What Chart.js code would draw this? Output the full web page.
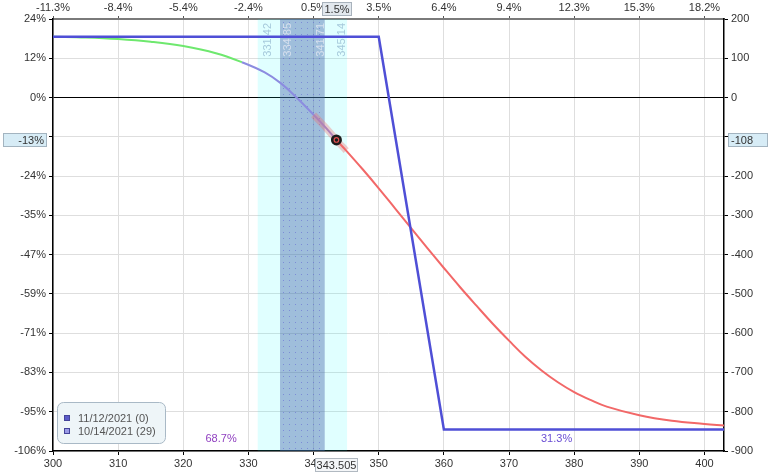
<!DOCTYPE html>
<html>
<head>
<meta charset="utf-8">
<script src="https://cdn.jsdelivr.net/npm/chart.js@4.4.1/dist/chart.umd.min.js"></script>
<style>
  html, body { margin: 0; padding: 0; background: #ffffff; }
</style>
</head>
<body>
<canvas id="riskChart" width="768" height="472"></canvas>
<script>
// dados do grafico
const xTicks = [300, 310, 320, 330, 340, 350, 360, 370, 380, 390, 400];
const topLabels = ['-11.3%', '-8.4%', '-5.4%', '-2.4%', '0.5%', '3.5%', '6.4%', '9.4%', '12.3%', '15.3%', '18.2%'];
const yTicks = [200, 100, 0, -100, -200, -300, -400, -500, -600, -700, -800, -900];
// o rotulo de -100 fica escondido atras da caixa do valor atual
const leftLabels = ['24%', '12%', '0%', '', '-24%', '-35%', '-47%', '-59%', '-71%', '-83%', '-95%', '-106%'];
const rightLabels = ['200', '100', '0', '', '-200', '-300', '-400', '-500', '-600', '-700', '-800', '-900'];

// linha de expiracao 11/12/2021
const expiryPrices = [300, 350, 360, 403];
const expiryPnl = [155, 155, -845, -845];

// linha T+0 10/14/2021
const todayPrices = [300, 305, 310, 315, 320, 325, 329, 332.5, 335, 337.5, 340, 342, 343.505, 345, 347.5, 350, 352.5, 355, 357.5, 360, 362.5, 365, 367.5, 370, 372.5, 375, 377.5, 380, 382.5, 385, 390, 395, 400, 403];
const todayPnl = [155, 153, 149, 142, 131, 113, 90, 64, 36, -2, -44, -79, -108, -135, -182, -231, -282, -333, -384, -434, -483, -530, -576, -619, -660, -695, -725, -750, -770, -787, -809, -823, -831, -835];

const bandOuter = [331.42, 345.14];
const bandInner = [334.85, 341.71];
const currentPrice = 343.505;
const currentPnl = -108;
const currentPct = '-13%';
const currentMove = '1.5%';
const probLabels = ['68.7%', '31.3%'];
const legendLabels = ['11/12/2021 (0)', '10/14/2021 (29)'];

const cores = {
    expiracao: '#4f4fd6',
    verde: '#6ee86e',
    azulClaro: '#8c8ce0',
    vermelho: '#f26868',
    grade: '#dedede',
    texto: '#333333'
};

const fonte = '11px "Liberation Sans", Arial, sans-serif';

function pts(xs, ys) {
    return xs.map((x, i) => ({ x: x, y: ys[i] }));
}

// faixas de desvio padrao
const bandsPlugin = {
    id: 'bands',
    beforeDatasetsDraw(chart) {
        const { ctx, chartArea: a, scales: { x } } = chart;
        ctx.save();
        const o0 = x.getPixelForValue(bandOuter[0]);
        const o1 = x.getPixelForValue(bandOuter[1]);
        ctx.fillStyle = 'rgba(0,255,255,0.12)';
        ctx.fillRect(o0, a.top, o1 - o0, a.bottom - a.top);

        const i0 = x.getPixelForValue(bandInner[0]);
        const i1 = x.getPixelForValue(bandInner[1]);
        ctx.fillStyle = 'rgba(70,100,170,0.42)';
        ctx.fillRect(i0, a.top, i1 - i0, a.bottom - a.top);
        ctx.fillStyle = 'rgba(90,90,210,0.5)';
        for (let yy = a.top + 3; yy < a.bottom; yy += 6) {
            for (let xx = Math.round(i0) + 3; xx < i1; xx += 6) ctx.fillRect(xx, yy, 1, 1);
        }

        // rotulos verticais
        ctx.font = fonte;
        ctx.textAlign = 'right';
        ctx.textBaseline = 'middle';
        const marks = [
            [bandOuter[0], 10, '#a6cadc'],
            [bandInner[0], 8, '#d6e0ee'],
            [bandInner[1], -4, '#d6e0ee'],
            [bandOuter[1], -5, '#a6cadc']
        ];
        marks.forEach(m => {
            ctx.save();
            ctx.translate(x.getPixelForValue(m[0]) + m[1], a.top + 4);
            ctx.rotate(-Math.PI / 2);
            ctx.fillStyle = m[2];
            ctx.fillText(m[0].toFixed(2), 0, 0);
            ctx.restore();
        });
        ctx.restore();
    }
};

function drawBox(ctx, text, left, top, w, h, fill, align) {
    ctx.save();
    ctx.fillStyle = fill;
    ctx.fillRect(left, top, w, h);
    ctx.setLineDash([1, 1]);
    ctx.strokeStyle = '#6f7d8a';
    ctx.lineWidth = 1;
    ctx.strokeRect(left + 0.5, top + 0.5, w - 1, h - 1);
    ctx.fillStyle = cores.texto;
    ctx.font = fonte;
    ctx.textBaseline = 'middle';
    ctx.textAlign = align;
    let tx = left + w / 2;
    if (align === 'right') tx = left + w - 3;
    if (align === 'left') tx = left + 3;
    ctx.fillText(text, tx, top + h / 2 + 0.5);
    ctx.restore();
}

// legenda, rotulos de probabilidade e caixas do preco atual
const overlayPlugin = {
    id: 'overlay',
    afterDatasetsDraw(chart) {
        const { ctx, scales: { x, y } } = chart;
        // marcador do preco atual
        const px = x.getPixelForValue(currentPrice);
        const py = y.getPixelForValue(currentPnl);
        ctx.save();
        ctx.beginPath();
        ctx.arc(px, py, 5.5, 0, Math.PI * 2);
        ctx.fillStyle = '#1c1c1c';
        ctx.fill();
        ctx.beginPath();
        ctx.arc(px, py, 2.3, 0, Math.PI * 2);
        ctx.strokeStyle = '#e05050';
        ctx.lineWidth = 1.2;
        ctx.stroke();
        ctx.restore();

        // probabilidades
        ctx.save();
        ctx.font = fonte;
        ctx.textAlign = 'center';
        ctx.textBaseline = 'middle';
        ctx.fillStyle = '#9040c0';
        ctx.fillText(probLabels[0], x.getPixelForValue(325.8), y.getPixelForValue(-870));
        ctx.fillStyle = '#6a4ed4';
        ctx.fillText(probLabels[1], x.getPixelForValue(377.3), y.getPixelForValue(-870));
        ctx.restore();

        // legenda
        ctx.save();
        ctx.beginPath();
        ctx.roundRect(57.5, 402.5, 108, 41, 6);
        ctx.fillStyle = '#eef5f8';
        ctx.fill();
        ctx.strokeStyle = '#a9b9c6';
        ctx.lineWidth = 1;
        ctx.stroke();
        const iconColors = ['#5b5bc8', '#9a9ae6'];
        legendLabels.forEach((txt, i) => {
            const cy = 418 + i * 13;
            ctx.fillStyle = iconColors[i];
            ctx.fillRect(64, cy - 3, 6, 6);
            ctx.strokeStyle = '#44449a';
            ctx.strokeRect(64.5, cy - 2.5, 5, 5);
            ctx.fillStyle = '#555555';
            ctx.font = fonte;
            ctx.textBaseline = 'middle';
            ctx.textAlign = 'left';
            ctx.fillText(txt, 78, cy + 0.5);
        });
        ctx.restore();
    },
    afterDraw(chart) {
        const { ctx, scales: { x, y } } = chart;
        const py = Math.round(y.getPixelForValue(currentPnl));
        const px = Math.round(x.getPixelForValue(currentPrice));
        drawBox(ctx, currentPct, 3, py - 7, 44, 14, '#d7ecf6', 'right');
        drawBox(ctx, String(currentPnl), 728, py - 7, 40, 14, '#d7ecf6', 'left');
        drawBox(ctx, currentMove, px - 14, 2, 30, 14, '#e2e8ee', 'center');
        drawBox(ctx, String(currentPrice), px - 21, 458, 43, 14, '#f4f6f8', 'center');
    }
};

const tickFont = { family: '"Liberation Sans", Arial, sans-serif', size: 11 };

function fixTicks(values) {
    return function (scale) {
        scale.ticks = values.map(v => ({ value: v }));
    };
}

new Chart(document.getElementById('riskChart'), {
    type: 'line',
    data: {
        datasets: [
            {
                data: pts(expiryPrices, expiryPnl),
                borderColor: cores.expiracao,
                borderWidth: 2.5,
                pointRadius: 0,
                tension: 0
            },
            {
                data: pts(todayPrices, todayPnl).filter(p => p.x >= 339.5 && p.x <= 346),
                borderColor: 'rgba(242,110,110,0.35)',
                borderWidth: 7,
                pointRadius: 0,
                tension: 0.3
            },
            {
                data: pts(todayPrices, todayPnl),
                borderWidth: 2,
                pointRadius: 0,
                tension: 0.4,
                segment: {
                    borderColor: c => {
                        const v = c.p0.parsed.x;
                        if (v < 329) return cores.verde;
                        if (v < currentPrice) return cores.azulClaro;
                        return cores.vermelho;
                    }
                }
            }
        ]
    },
    options: {
        responsive: false,
        animation: false,
        layout: { padding: 0 },
        plugins: {
            legend: { display: false },
            tooltip: { enabled: false }
        },
        scales: {
            x: {
                type: 'linear',
                position: 'bottom',
                min: 300,
                max: 403,
                afterBuildTicks: fixTicks(xTicks),
                afterFit: s => { s.height = 21; },
                grid: { color: cores.grade, tickLength: 4, tickColor: '#000' },
                border: { color: '#000', width: 1.5 },
                ticks: { font: tickFont, color: cores.texto, padding: 2, maxRotation: 0, autoSkip: false }
            },
            x2: {
                type: 'linear',
                position: 'top',
                min: 300,
                max: 403,
                afterBuildTicks: fixTicks(xTicks),
                afterFit: s => { s.height = 19; },
                grid: { drawOnChartArea: false, tickLength: 3, tickColor: '#555' },
                border: { color: '#7a7a7a', width: 2 },
                ticks: {
                    font: tickFont, color: cores.texto, padding: 1, maxRotation: 0, autoSkip: false,
                    callback: v => topLabels[xTicks.indexOf(v)]
                }
            },
            y: {
                position: 'left',
                min: -900,
                max: 200,
                afterBuildTicks: fixTicks(yTicks),
                afterFit: s => { s.width = 53; },
                grid: {
                    color: c => (c.tick && c.tick.value === 0 ? '#000' : cores.grade),
                    tickLength: 4,
                    tickColor: '#000'
                },
                border: { color: '#000', width: 1.5 },
                ticks: {
                    font: tickFont, color: cores.texto, padding: 3, autoSkip: false,
                    callback: v => leftLabels[yTicks.indexOf(v)]
                }
            },
            y2: {
                position: 'right',
                min: -900,
                max: 200,
                afterBuildTicks: fixTicks(yTicks),
                afterFit: s => { s.width = 44; },
                grid: { drawOnChartArea: false, tickLength: 4, tickColor: '#000' },
                border: { color: '#000', width: 1.5 },
                ticks: {
                    font: tickFont, color: cores.texto, padding: 3, autoSkip: false,
                    callback: v => rightLabels[yTicks.indexOf(v)]
                }
            }
        }
    },
    plugins: [bandsPlugin, overlayPlugin]
});
</script>
</body>
</html>
